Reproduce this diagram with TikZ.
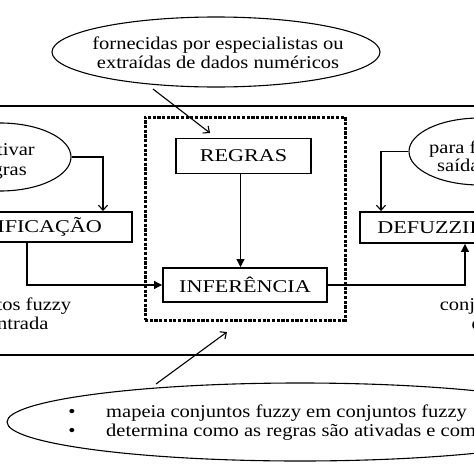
\documentclass[tikz,border=0pt]{standalone}
\usepackage{fontspec}
\setmainfont{Liberation Serif}[FakeStretch=1.14]
\newfontfamily\capfont{Liberation Serif}[FakeStretch=1.23]
\usetikzlibrary{shapes.geometric,arrows.meta}
\begin{document}
\begin{tikzpicture}[x=1pt,y=-1pt,
  txt/.style={inner sep=0pt, font=\fontsize{18}{19}\selectfont},
  boxtxt/.style={font=\capfont\fontsize{18}{19}\selectfont},
  bx/.style={draw, line width=1.9pt, inner sep=0pt, boxtxt},
  ell/.style={draw, ellipse, line width=1.1pt, inner sep=0pt},
  openar/.style={-{Straight Barb[length=5pt,width=9pt]}, line width=1.1pt},
  fillar/.style={-{Triangle[length=8pt,width=8pt]}, line width=1.1pt}
]
\useasboundingbox (0,0) rectangle (474,474);
\clip (0,0) rectangle (474,474);
\fill[white] (0,0) rectangle (474,474);

% outer frame
\draw[line width=2.6pt] (-30,106) rectangle (504,355);
% dotted inference frame
\node[draw, line width=3pt, dash pattern=on 3.2pt off 1.5pt, minimum width=200, minimum height=203, inner sep=0pt] (dotbox) at (245,218.5) {};

% boxes
\node[bx, minimum width=135, minimum height=35] (reg) at (243.5,156) {REGRAS};
\node[bx, minimum width=164, minimum height=34] (inf) at (245,285) {INFERÊNCIA};
\node[bx, minimum width=220, minimum height=30] (fuzz) at (22,227) {FUZZIFICAÇÃO};
\node[bx, minimum width=224, minimum height=31] (defuzz) at (472,227.5) {DEFUZZIFICAÇÃO};

% ellipses
\node[ell, minimum width=328, minimum height=70] (top) at (216,52) {};
\node[txt, align=center] (toptxt) at (218,53) {fornecidas por especialistas ou\\extraídas de dados numéricos};
\node[ell, minimum width=142, minimum height=68] (lell) at (0,157) {};
\node[txt, anchor=base east] (lt1) at (35,155) {para ativar};
\node[txt, anchor=base east] (lt2) at (27,175) {as regras};
\node[ell, minimum width=142, minimum height=67] (rell) at (480,151.5) {};
\node[txt, anchor=base west] (rt1) at (429,153) {para fornecer};
\node[txt, anchor=base west] (rt2) at (437,171) {saída};
\node[ell, minimum width=586, minimum height=78] (bell) at (300,422) {};
\node[txt, anchor=base] (b1) at (72,417) {•};
\node[txt, anchor=base] (b2) at (72,436) {•};
\node[txt, anchor=base west] (bt1) at (106,417) {mapeia conjuntos fuzzy em conjuntos fuzzy};
\node[txt, anchor=base west] (bt2) at (106,436) {determina como as regras são ativadas e combinadas};

% side texts
\node[txt, align=center] (intxt) at (6,314) {conjuntos fuzzy\\de entrada};
\node[txt, align=center] (outtxt) at (505,314) {conjuntos fuzzy\\de saída};

% connectors
\coordinate (topfoot) at (153,89);
\coordinate (toptip) at (210,133);
\draw[openar] (topfoot) -- (toptip);
\coordinate (botfoot) at (156,384);
\coordinate (bottip) at (227,332);
\draw[openar] (botfoot) -- (bottip);
\draw[openar] (lell.east) -| ([xshift=81pt]fuzz.north);
\draw[openar] (rell.west) -| ([xshift=-91pt]defuzz.north);
\draw[fillar] ([xshift=-3pt]reg.south) -- ([xshift=-3pt]reg.south |- inf.north);
\draw[fillar] ([xshift=5pt]fuzz.south) |- (inf.west);
\draw[fillar] (inf.east) -| ([xshift=-7pt]defuzz.south);
\end{tikzpicture}
\end{document}
